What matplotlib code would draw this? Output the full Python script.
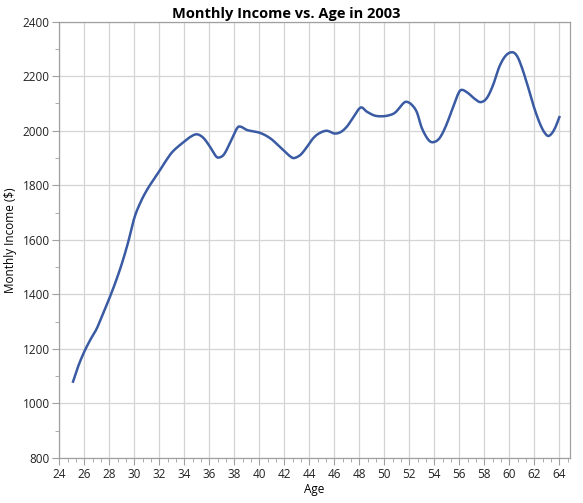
import matplotlib
matplotlib.use("Agg")
import matplotlib.pyplot as plt
import numpy as np
from matplotlib.ticker import AutoMinorLocator, MultipleLocator

# Values
ages = [25.1, 25.5, 26.0, 26.5, 27.0, 27.5, 28.0, 28.5, 29.0, 29.5,
        30.0, 30.5, 31.0, 31.5, 32.0, 32.5, 33.0, 33.5, 34.0, 34.5,
        35.0, 35.5, 36.0, 36.5, 36.8, 37.2, 37.7, 38.2, 38.5, 39.0,
        39.5, 40.0, 40.5, 41.0, 41.5, 42.0, 42.5, 42.8, 43.3, 43.8,
        44.3, 44.8, 45.4, 46.0, 46.5, 47.0, 47.5, 48.1, 48.6, 49.2,
        49.8, 50.4, 50.9, 51.5, 51.8, 52.2, 52.6, 53.0, 53.5, 53.9,
        54.4, 54.9, 55.4, 55.9, 56.2, 56.7, 57.2, 57.7, 58.2, 58.7,
        59.2, 59.7, 60.2, 60.6, 61.0, 61.5, 62.0, 62.5, 62.9, 63.2,
        63.6, 64.0]
income = [1080, 1135, 1190, 1235, 1275, 1330, 1385, 1445, 1512, 1590,
          1680, 1738, 1782, 1818, 1852, 1888, 1920, 1942, 1960, 1978,
          1987, 1975, 1945, 1908, 1902, 1915, 1960, 2008, 2015, 2003,
          1998, 1993, 1983, 1968, 1947, 1925, 1905, 1900, 1912, 1940,
          1972, 1991, 2000, 1990, 1995, 2015, 2048, 2085, 2070, 2056,
          2053, 2057, 2068, 2100, 2106, 2095, 2068, 2010, 1968, 1958,
          1972, 2015, 2075, 2135, 2150, 2138, 2118, 2105, 2120, 2168,
          2235, 2275, 2288, 2275, 2232, 2160, 2082, 2020, 1988, 1982,
          2005, 2050]


def smooth_curve(x, y, steps=12):
    """Catmull-Rom resampling so the line looks like the smoother in the reference."""
    x = np.asarray(x, float)
    y = np.asarray(y, float)
    px = np.concatenate([[2 * x[0] - x[1]], x, [2 * x[-1] - x[-2]]])
    py = np.concatenate([[2 * y[0] - y[1]], y, [2 * y[-1] - y[-2]]])
    t = np.linspace(0, 1, steps, endpoint=False)
    xs, ys = [], []
    for i in range(1, len(px) - 2):
        for p, out in ((px, xs), (py, ys)):
            p0, p1, p2, p3 = p[i - 1], p[i], p[i + 1], p[i + 2]
            out.extend(0.5 * (2 * p1 + (-p0 + p2) * t
                              + (2 * p0 - 5 * p1 + 4 * p2 - p3) * t ** 2
                              + (-p0 + 3 * p1 - 3 * p2 + p3) * t ** 3))
    xs.append(x[-1])
    ys.append(y[-1])
    return np.array(xs), np.array(ys)


plt.rcParams["font.family"] = ["Open Sans", "DejaVu Sans"]

fig = plt.figure(figsize=(5.83, 5.03), dpi=100)
ax = fig.add_axes([0.1017, 0.0895, 0.876, 0.8674])

sx, sy = smooth_curve(ages, income)
ax.plot(sx, sy, color="#3a5ba3", linewidth=1.8, zorder=3)

ax.set_xlim(24, 64.85)
ax.set_ylim(800, 2400)
ax.xaxis.set_major_locator(MultipleLocator(2))
ax.xaxis.set_minor_locator(AutoMinorLocator(3))
ax.yaxis.set_major_locator(MultipleLocator(200))
ax.yaxis.set_minor_locator(AutoMinorLocator(2))

ax.grid(True, which="major", color="#d4d4d4", linewidth=0.9)
ax.set_axisbelow(True)

for side in ("left", "bottom", "top", "right"):
    ax.spines[side].set_color("#a0a0a0")
    ax.spines[side].set_linewidth(0.9)

ax.tick_params(which="major", length=5, color="#a0a0a0", labelsize=8.5,
               labelcolor="#222222", pad=2)
ax.tick_params(which="minor", length=3, color="#a0a0a0")

ax.set_xlabel("Age", fontsize=8.5, labelpad=2)
ax.set_ylabel("Monthly Income ($)", fontsize=8.5, labelpad=4)
fig.text(0.491, 0.972, "Monthly Income vs. Age in 2003", fontsize=10.5,
         fontweight="bold", ha="center", va="center")

fig.savefig("out.png", dpi=100)
